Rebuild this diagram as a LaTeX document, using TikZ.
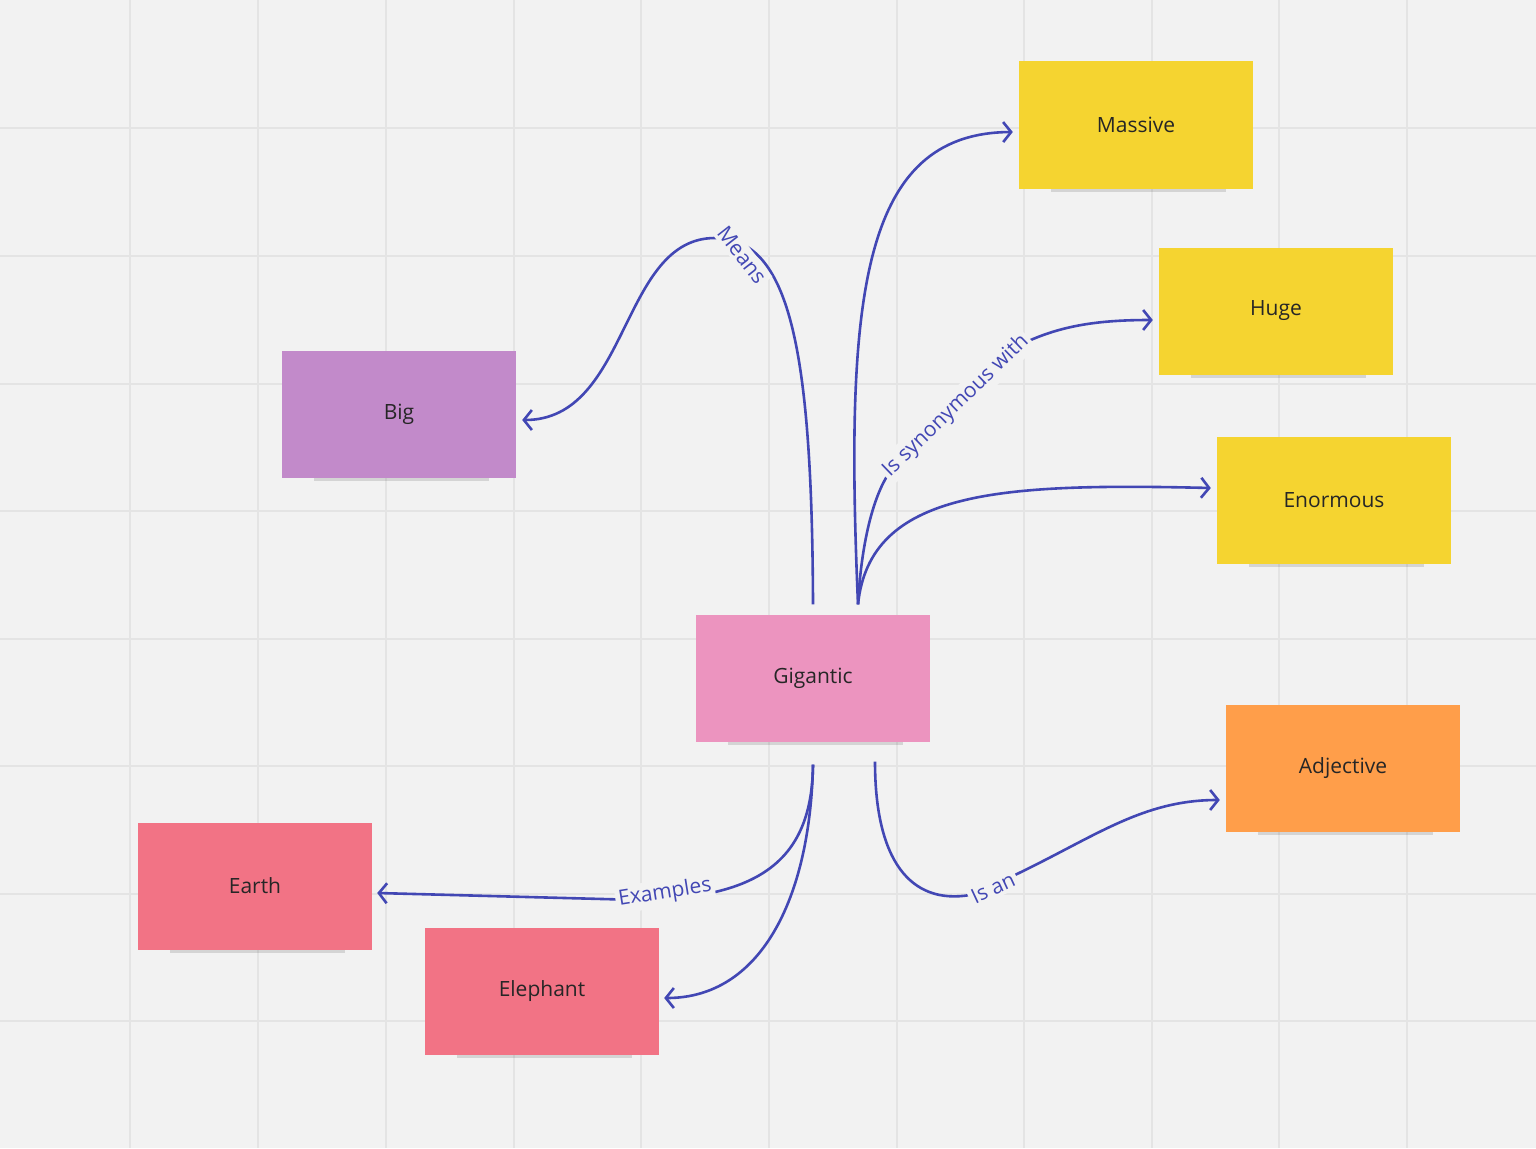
\documentclass[tikz,border=0pt]{standalone}
\usepackage{fontspec}
\setmainfont{Open Sans}
\usetikzlibrary{arrows.meta,positioning}
\definecolor{bg}{HTML}{F2F2F2}
\definecolor{gridc}{HTML}{E4E4E4}
\definecolor{link}{HTML}{4247B4}
\definecolor{yel}{HTML}{F5D430}
\definecolor{pur}{HTML}{C28ACA}
\definecolor{pnk}{HTML}{EC94BF}
\definecolor{org}{HTML}{FF9E4A}
\definecolor{rd}{HTML}{F27385}
\tikzset{
  note/.style={minimum width=234pt,minimum height=127pt,inner sep=0pt,font=\fontsize{21}{25}\selectfont,text=black!85},
  conn/.style={draw=link,line width=2.6pt,-{Straight Barb[length=8pt,width=20pt,line width=2.6pt]}},
  lbl/.style={fill=bg,text=link,inner sep=3pt,font=\fontsize{21}{25}\selectfont}
}
\begin{document}
\begin{tikzpicture}[x=1pt,y=-1pt]
    \fill[bg] (0,0) rectangle (1536,1148);
    \useasboundingbox (0,0) rectangle (1536,1148);
    \foreach \g in {130,258,386,514,641,769,897,1024,1152,1279,1407}
        \draw[gridc,line width=1.5pt] (\g,0) -- (\g,1148);
    \foreach \g in {128,256,384,511,639,766,894,1021}
        \draw[gridc,line width=1.5pt] (0,\g) -- (1536,\g);
    % shadows
    \foreach \cx/\cy in {1136/125,1276/311,1334/500,1343/768,399/414,813/678,255/886,542/991}
        \fill[black,opacity=0.12] (\cx-85,\cy+63) rectangle (\cx+90,\cy+67);
    \node[note,fill=yel] (massive) at (1136,125) {Massive};
    \node[note,fill=yel] (huge) at (1276,311) {Huge};
    \node[note,fill=yel] (enorm) at (1334,500) {Enormous};
    \node[note,fill=org] (adj) at (1343,768) {Adjective};
    \node[note,fill=pur] (big) at (399,414) {Big};
    \node[note,fill=pnk] (gig) at (813,678) {Gigantic};
    \node[note,fill=rd] (earth) at (255,886) {Earth};
    \node[note,fill=rd] (eleph) at (542,991) {Elephant};
    \coordinate (gtl) at ([yshift=10pt]gig.north);
    \coordinate (gtr) at ([xshift=45pt,yshift=10pt]gig.north);
    \coordinate (gbl) at ([yshift=-23pt]gig.south);
    \coordinate (gbr) at ([xshift=62pt,yshift=-20pt]gig.south);
    % means
    \draw[conn] (gtl) .. controls (812,350) and (790,238) .. (715,238)
        .. controls (620,238) and (630,420) .. ([xshift=6pt]big.east|-0,420);
    \node[lbl,rotate=-52] (means) at (742,255) {Means};
    % synonyms
    \draw[conn] (gtr) .. controls (845,300) and (860,133) .. ([xshift=-6pt]massive.west|-0,132);
    \draw[conn] (gtr) .. controls (862,530) and (878,485) .. (893,468) -- (1020,345)
        .. controls (1060,325) and (1100,320) .. ([xshift=-6pt]huge.west|-0,320);
    \draw[conn] (gtr) .. controls (870,490) and (1000,483) .. ([xshift=-6pt]enorm.west|-0,488);
    \node[lbl,rotate=44] (syn) at (956,406) {Is synonymous with};
    % examples
    \draw[conn] (gbl) .. controls (812,860) and (760,898) .. (640,900)
        -- ([xshift=5pt]earth.east|-0,893);
    \draw[conn] (gbl) .. controls (810,900) and (760,998) .. ([xshift=5pt]eleph.east|-0,998);
    \node[lbl,rotate=9] (ex) at (665,893) {Examples};
    % is an
    \draw[conn] (gbr) .. controls (875,860) and (910,905) .. (970,895)
        .. controls (1080,850) and (1130,800) .. ([xshift=-6pt]adj.west|-0,800);
    \node[lbl,rotate=25] (isan) at (993,888) {Is an};
\end{tikzpicture}
\end{document}
